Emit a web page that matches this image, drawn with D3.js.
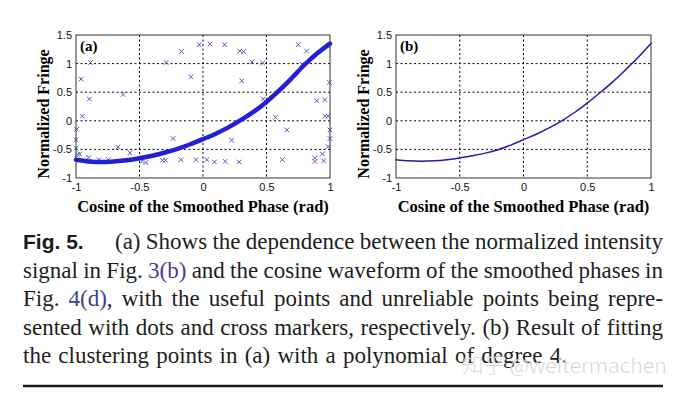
<!DOCTYPE html>
<html>
<head>
<meta charset="utf-8">
<script src="https://cdn.jsdelivr.net/npm/d3@7"></script>
<style>
  html, body { margin: 0; padding: 0; background: #fff; }
  svg { display: block; }
</style>
</head>
<body>
<script>
var xTicks = [-1, -0.5, 0, 0.5, 1];
var xTickLabels = ['-1', '-0.5', '0', '0.5', '1'];
var yTicks = [-1, -0.5, 0, 0.5, 1, 1.5];
var yTickLabels = ['-1', '-0.5', '0', '0.5', '1', '1.5'];

var sampleX = [-1, -0.9, -0.8, -0.7, -0.6, -0.5, -0.4, -0.3, -0.2, -0.1, 0, 0.1, 0.2, 0.3, 0.4, 0.5, 0.6, 0.7, 0.8, 0.9, 1];
// useful points (dense dots) in panel (a)
var usefulY = [-0.68, -0.71, -0.72, -0.71, -0.69, -0.655, -0.61, -0.555, -0.49, -0.41, -0.32, -0.225, -0.115, 0.015, 0.16, 0.33, 0.53, 0.75, 0.98, 1.18, 1.35];
// degree-4 fit in panel (b)
var fitY = [-0.68, -0.70, -0.705, -0.70, -0.68, -0.65, -0.61, -0.565, -0.505, -0.425, -0.33, -0.235, -0.125, 0.0, 0.145, 0.31, 0.49, 0.68, 0.89, 1.11, 1.35];

// unreliable points (cross markers) in panel (a)
var crossX = [-0.03, 0.055, 0.17, -0.17, 0.29, 0.32, -0.29, -0.885, -0.96, -0.095, 0.305, -0.895, -0.63, -0.95,
  -0.995, -1.0, -1.0, -0.67, -0.235, 0.225, -0.575, -0.99, -0.97, -0.90, -0.82, -0.745, -0.48, -0.45, -0.32, -0.295,
  -0.175, -0.055, 0.03, 0.09, 0.175, 0.285, 0.625, 0.66, 0.57, 0.475, 0.385, 0.47, 0.75, 0.815, 0.78, 0.895, 0.96,
  0.985, 0.995, 0.96, 0.985, 1.0, 1.0, 0.985, 0.94, 0.88, 0.88, 0.95];
var crossY = [1.33, 1.34, 1.33, 1.21, 1.22, 1.21, 1.02, 1.02, 0.73, 0.77, 0.70, 0.38, 0.46, 0.08,
  -0.15, -0.33, -0.48, -0.46, -0.31, -0.34, -0.56, -0.59, -0.58, -0.64, -0.68, -0.68, -0.71, -0.73, -0.69, -0.69,
  -0.68, -0.68, -0.68, -0.72, -0.71, -0.72, -0.68, -0.16, 0.06, 0.38, 1.03, 1.01, 1.33, 1.22, 0.99, 0.35, 0.37,
  1.31, 0.67, 0.08, 0.08, -0.16, -0.31, -0.45, -0.58, -0.65, -0.71, -0.70];

var panelLabels = ['(a)', '(b)'];
var xTitle = 'Cosine of the Smoothed Phase (rad)';
var yTitle = 'Normalized Fringe';

var figLabel = 'Fig. 5.';
var captionLines = [
  '(a) Shows the dependence between the normalized intensity',
  'signal in Fig. {3(b)} and the cosine waveform of the smoothed phases in',
  'Fig. {4(d)}, with the useful points and unreliable points being repre-',
  'sented with dots and cross markers, respectively. (b) Result of fitting',
  'the clustering points in (a) with a polynomial of degree 4.'
];
var watermark = '知乎 @weitermachen';

var width = 684, height = 394;
var svg = d3.select('body').append('svg')
    .attr('width', width)
    .attr('height', height);

var usefulData = sampleX.map(function (x, i) { return [x, usefulY[i]]; });
var fitData = sampleX.map(function (x, i) { return [x, fitY[i]]; });
var crossData = crossX.map(function (x, i) { return [x, crossY[i]]; });

function drawPanel(p) {
    var x = d3.scaleLinear().domain([-1, 1]).range([p.left, p.right]);
    var y = d3.scaleLinear().domain([-1, 1.5]).range([178, 35]);
    var g = svg.append('g');

    g.selectAll('.vgrid').data(xTicks.slice(1, -1)).enter().append('line')
        .attr('x1', function (d) { return x(d); }).attr('x2', function (d) { return x(d); })
        .attr('y1', 35).attr('y2', 178)
        .attr('stroke', '#000').attr('stroke-width', 1).attr('stroke-dasharray', '2,2.5');
    g.selectAll('.hgrid').data(yTicks.slice(1, -1)).enter().append('line')
        .attr('y1', function (d) { return y(d); }).attr('y2', function (d) { return y(d); })
        .attr('x1', p.left).attr('x2', p.right)
        .attr('stroke', '#000').attr('stroke-width', 1).attr('stroke-dasharray', '2,2.5');

    var xAxis = g.append('g')
        .attr('transform', 'translate(0,178)')
        .call(d3.axisBottom(x).tickValues(xTicks).tickSize(0).tickPadding(5)
            .tickFormat(function (d, i) { return xTickLabels[i]; }));
    var yAxis = g.append('g')
        .attr('transform', 'translate(' + p.left + ',0)')
        .call(d3.axisLeft(y).tickValues(yTicks).tickSize(0).tickPadding(4)
            .tickFormat(function (d, i) { return yTickLabels[i]; }));
    [xAxis, yAxis].forEach(function (a) {
        a.select('.domain').remove();
        a.selectAll('text')
            .attr('font-family', '"Liberation Sans", Arial, sans-serif')
            .attr('font-size', 11)
            .attr('fill', '#111');
    });

    if (p.crosses) {
        g.selectAll('.cross').data(crossData).enter().append('path')
            .attr('d', function (d) {
                var cx = x(d[0]), cy = y(d[1]), r = 2.3;
                return 'M' + (cx - r) + ',' + (cy - r) + 'L' + (cx + r) + ',' + (cy + r) +
                    'M' + (cx - r) + ',' + (cy + r) + 'L' + (cx + r) + ',' + (cy - r);
            })
            .attr('stroke', '#5656c8').attr('stroke-width', 1).attr('fill', 'none');
    }

    var line = d3.line()
        .x(function (d) { return x(d[0]); })
        .y(function (d) { return y(d[1]); })
        .curve(d3.curveCatmullRom.alpha(0.5));
    g.append('path').datum(p.data)
        .attr('d', line)
        .attr('fill', 'none')
        .attr('stroke', p.lineColor)
        .attr('stroke-width', p.lineWidth)
        .attr('stroke-linecap', 'round');

    g.append('rect')
        .attr('x', p.left).attr('y', 35)
        .attr('width', p.right - p.left).attr('height', 143)
        .attr('fill', 'none').attr('stroke', '#333').attr('stroke-width', 1);

    g.append('text')
        .attr('x', p.left + 4).attr('y', 51)
        .attr('font-family', '"Liberation Serif", "Times New Roman", serif')
        .attr('font-weight', 'bold').attr('font-size', 15)
        .text(p.label);

    g.append('text')
        .attr('x', (p.left + p.right) / 2).attr('y', 212)
        .attr('text-anchor', 'middle')
        .attr('font-family', '"Liberation Serif", "Times New Roman", serif')
        .attr('font-weight', 'bold').attr('font-size', 16.5)
        .text(xTitle);

    g.append('text')
        .attr('transform', 'translate(' + (p.left - 27) + ',114) rotate(-90)')
        .attr('text-anchor', 'middle')
        .attr('font-family', '"Liberation Serif", "Times New Roman", serif')
        .attr('font-weight', 'bold').attr('font-size', 16)
        .text(yTitle);
}

drawPanel({ left: 76, right: 330, label: panelLabels[0], crosses: true, data: usefulData, lineColor: '#2020d8', lineWidth: 4.5 });
drawPanel({ left: 396, right: 651, label: panelLabels[1], crosses: false, data: fitData, lineColor: '#1c1cae', lineWidth: 1.5 });

// caption
var serif = '"Liberation Serif", "Times New Roman", "DejaVu Serif", serif';
var capSize = 23;
var lineY = [249, 277.5, 306, 334.5, 363];
var lineRight = [663, 663, 663, 663, 567];

svg.append('text')
    .attr('x', 23).attr('y', lineY[0])
    .attr('font-family', '"Liberation Sans", Arial, sans-serif')
    .attr('font-weight', 'bold').attr('font-size', 21)
    .attr('fill', '#1a1a1a')
    .text(figLabel);

function makeWord(word) {
    var t = svg.append('text')
        .attr('font-family', serif)
        .attr('font-size', capSize)
        .attr('fill', '#1e1e1e');
    word.split(/(\{[^}]*\})/).forEach(function (seg) {
        if (!seg) return;
        var blue = seg.charAt(0) === '{';
        t.append('tspan')
            .attr('fill', blue ? '#3d3d9c' : '#1e1e1e')
            .text(blue ? seg.slice(1, -1) : seg);
    });
    return t;
}

captionLines.forEach(function (ln, li) {
    var words = ln.split(' ').map(makeWord);
    var widths = words.map(function (w) { return w.node().getComputedTextLength(); });
    var x0 = li === 0 ? 115 : 23;
    var gap = (lineRight[li] - x0 - d3.sum(widths)) / (words.length - 1);
    var cx = x0;
    words.forEach(function (w, i) {
        w.attr('x', cx).attr('y', lineY[li]);
        cx += widths[i] + gap;
    });
});

svg.append('text')
    .attr('x', 462).attr('y', 373)
    .attr('font-family', '"Noto Sans CJK SC", "Noto Sans", sans-serif')
    .attr('font-weight', 300).attr('font-size', 20)
    .attr('textLength', 205).attr('lengthAdjust', 'spacingAndGlyphs')
    .attr('fill', '#b4b4b4').attr('fill-opacity', 0.85)
    .attr('stroke', '#fff').attr('stroke-width', 0.6).attr('stroke-opacity', 0.6)
    .text(watermark);

svg.append('line')
    .attr('x1', 23).attr('x2', 663)
    .attr('y1', 386).attr('y2', 386)
    .attr('stroke', '#1a1a1a').attr('stroke-width', 2.5);
</script>
</body>
</html>
